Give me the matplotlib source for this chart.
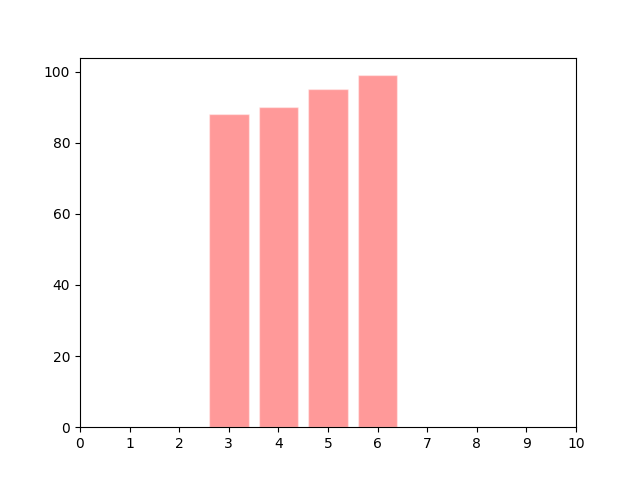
import matplotlib
matplotlib.use('Agg')
import matplotlib.pyplot as plt

positions = [3, 4, 5, 6]
scores = [88, 90, 95, 99]
ticks = list(range(0, 11))

fig, ax = plt.subplots(figsize=(6.4, 4.8), dpi=100)
ax.bar(positions, scores, width=0.8, color='red', alpha=0.4, edgecolor='white')
ax.set_xlim(0, 10)
ax.set_xticks(ticks)
fig.savefig('out.png')
